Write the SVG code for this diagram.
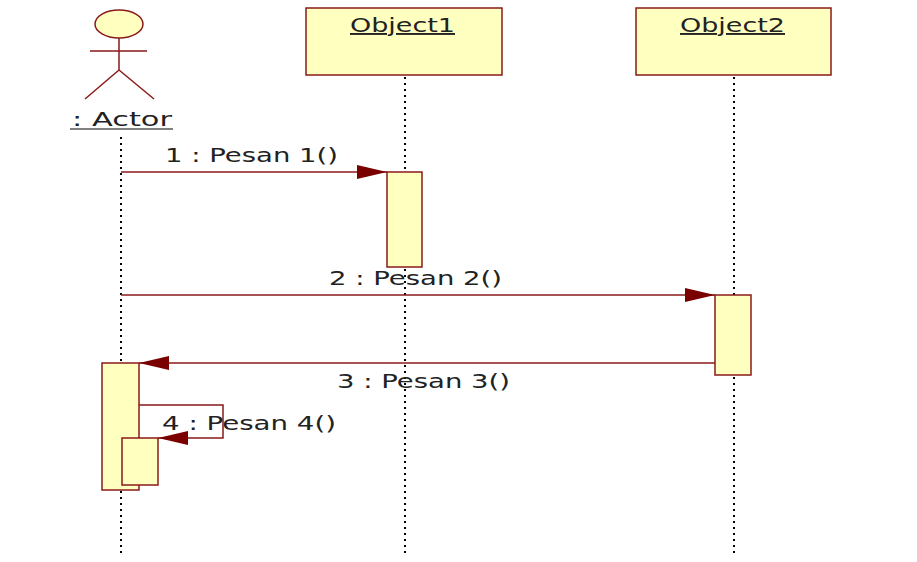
<svg xmlns="http://www.w3.org/2000/svg" width="917" height="562" viewBox="0 0 917 562">
<style>
.s{stroke:#8b1a1a;stroke-width:1.5;fill:none}
.b{fill:#ffffc0;stroke:#8b1a1a;stroke-width:1.5}
.l{stroke:#000;stroke-width:2;stroke-dasharray:2 4;fill:none}
text{font-family:"DejaVu Sans",Verdana,sans-serif;font-size:19px;fill:#222}
</style>
<defs>
<marker id="a" markerWidth="30" markerHeight="14" refX="30" refY="7" orient="auto" markerUnits="userSpaceOnUse">
<path d="M0,0 L30,7 L0,14 Z" fill="#7a0000"/>
</marker>
</defs>
<rect width="917" height="562" fill="#fff"/>
<g id="lifelines">
<line class="l" x1="121" y1="137" x2="121" y2="556"/>
<line class="l" x1="405" y1="77" x2="405" y2="556"/>
<line class="l" x1="734" y1="77" x2="734" y2="556"/>
</g>
<g id="actor">
<ellipse class="b" cx="119" cy="24" rx="24" ry="14"/>
<path class="s" d="M119,38 V70 M90,51 H147 M119,70 L85,99 M119,70 L154,99"/>
<text x="72" y="126" textLength="100" lengthAdjust="spacingAndGlyphs">: Actor</text>
<line x1="70" y1="129" x2="173" y2="129" stroke="#000" stroke-width="1"/>
</g>
<g id="object1">
<rect class="b" x="306" y="8" width="196" height="67"/>
<text x="350" y="32" textLength="105" lengthAdjust="spacingAndGlyphs" text-decoration="underline">Object1</text>
</g>
<g id="object2">
<rect class="b" x="636" y="8" width="195" height="67"/>
<text x="680" y="32" textLength="105" lengthAdjust="spacingAndGlyphs" text-decoration="underline">Object2</text>
</g>
<g id="activations">
<rect class="b" x="387" y="172" width="35" height="95"/>
<rect class="b" x="715" y="295" width="36" height="80"/>
<rect class="b" x="102" y="363" width="37" height="127"/>
<rect class="b" x="122" y="438" width="36" height="47"/>
</g>
<g id="connectors">
<line class="s" x1="121" y1="172" x2="387" y2="172" marker-end="url(#a)"/>
<line class="s" x1="121" y1="295" x2="715" y2="295" marker-end="url(#a)"/>
<line class="s" x1="715" y1="363" x2="139" y2="363" marker-end="url(#a)"/>
<polyline class="s" points="139,405 223,405 223,438 158,438" marker-end="url(#a)"/>
</g>
<g id="labels">
<text x="165" y="162" textLength="173" lengthAdjust="spacingAndGlyphs">1 : Pesan 1()</text>
<text x="329" y="285" textLength="173" lengthAdjust="spacingAndGlyphs">2 : Pesan 2()</text>
<text x="337" y="388" textLength="173" lengthAdjust="spacingAndGlyphs">3 : Pesan 3()</text>
<text x="162" y="430" textLength="174" lengthAdjust="spacingAndGlyphs">4 : Pesan 4()</text>
</g>
</svg>
